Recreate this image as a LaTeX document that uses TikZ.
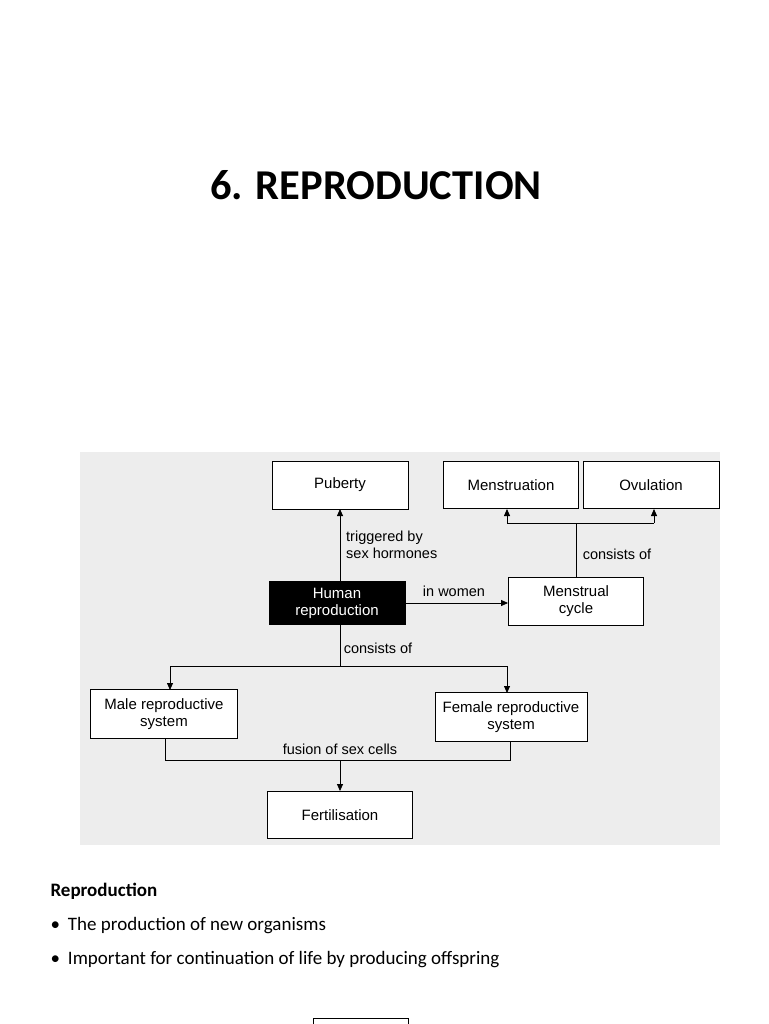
\documentclass[tikz,border=0pt]{standalone}
\usepackage{fontspec}
\setmainfont{Carlito}
\newfontfamily\diag{Liberation Sans}
\usetikzlibrary{arrows.meta}
\begin{document}
\begin{tikzpicture}[x=1pt,y=-1pt,
  bx/.style={draw=black,line width=0.9pt,fill=white,font=\diag\fontsize{15}{17}\selectfont,align=center,inner sep=0pt},
  lbl/.style={font=\diag\fontsize{14.5}{16.5}\selectfont,align=left,inner sep=0pt},
  ar/.style={line width=0.8pt,-{Triangle[length=7pt,width=6pt]}},
  ln/.style={line width=0.8pt}]
\useasboundingbox (0,0) rectangle (768,1024);
\node[font=\bfseries\fontsize{42.5}{44}\selectfont] (title) at (376,185) {6. REPRODUCTION};
\fill[gray!14] (80,452) rectangle (720,845);
\node[bx,minimum width=136pt,minimum height=48pt] (pub) at (340,485) {Puberty};
\node[bx,minimum width=135pt,minimum height=47pt] (men) at (511,485) {Menstruation};
\node[bx,minimum width=136pt,minimum height=47pt] (ovu) at (651,485) {Ovulation};
\node[bx,fill=black,text=white,minimum width=136pt,minimum height=43pt] (hum) at (337,603) {Human\\reproduction};
\node[bx,minimum width=135pt,minimum height=48pt] (cyc) at (576,601) {Menstrual\\cycle};
\node[bx,minimum width=147pt,minimum height=49pt] (male) at (164,714) {Male reproductive\\system};
\node[bx,minimum width=152pt,minimum height=49pt] (fem) at (511,717) {Female reproductive\\system};
\node[bx,minimum width=145pt,minimum height=47pt] (fert) at (340,815) {Fertilisation};
\draw[ar] (340,582) -- (340,509);
\node[lbl,anchor=west] (t1) at (346,545) {triggered by\\sex hormones};
\draw[ar] (hum.east) -- (cyc.west |- hum.east);
\node[lbl] (t2) at (454,591) {in women};
\coordinate (c1) at (576,523);
\coordinate (c2) at (507,523);
\coordinate (c3) at (654,523);
\draw[ln] (cyc.north) -- (c1);
\draw[ln] (c2) -- (c3);
\draw[ar] (c2) -- (507,509);
\draw[ar] (c3) -- (654,509);
\node[lbl] (t3) at (617,554) {consists of};
\coordinate (d1) at (340,666);
\draw[ln] (340,625) -- (d1);
\draw[ln] (170,666) -- (507,666);
\draw[ar] (170,666) -- (170,690);
\draw[ar] (507,666) -- (507,693);
\node[lbl] (t4) at (378,648) {consists of};
\draw[ln] (165,739) -- (165,760) -- (510,760) -- (510,742);
\draw[ar] (340,760) -- (fert.north);
\node[lbl] (t5) at (340,749) {fusion of sex cells};
\node[anchor=west,font=\bfseries\fontsize{19}{22}\selectfont] (h) at (47,891) {Reproduction};
\node[anchor=west,font=\fontsize{19}{22}\selectfont] (b1) at (47,926) {\textbullet\hspace{8pt}The production of new organisms};
\node[anchor=west,font=\fontsize{19}{22}\selectfont] (b2) at (47,960) {\textbullet\hspace{8pt}Important for continuation of life by producing offspring};
\draw[line width=1pt] (313,1030) -- (313,1018) -- (408,1018) -- (408,1030);
\end{tikzpicture}
\end{document}
